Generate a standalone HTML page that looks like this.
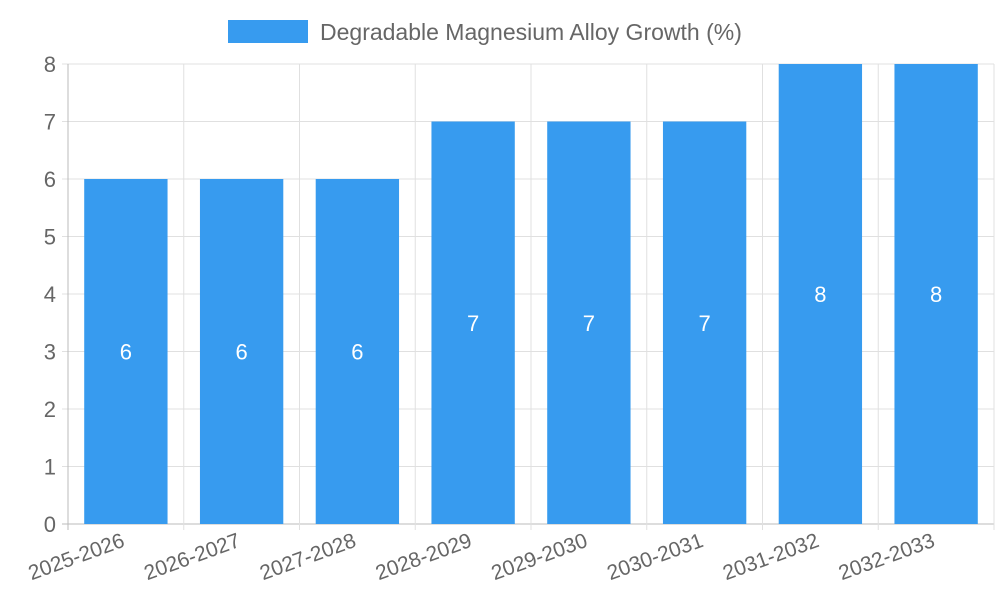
<!DOCTYPE html>
<html><head><meta charset="utf-8"><style>
body{margin:0;background:#fff;}
svg{display:block;font-family:"Liberation Sans",sans-serif;}
</style></head><body>
<svg id="chart" width="1000" height="600">
<g>
<rect x="228" y="20" width="80" height="23" fill="#379bef"></rect>
<text x="320" y="40" font-size="23" fill="#666">Degradable Magnesium Alloy Growth (%)</text>
</g>
<g id="grid"></g><g id="bars"></g><g id="labels"></g>
</svg>
<script>
const categories=["2025-2026","2026-2027","2027-2028","2028-2029","2029-2030","2030-2031","2031-2032","2032-2033"];
const values=[6,6,6,7,7,7,8,8];
const yTicks=[0,1,2,3,4,5,6,7,8];
const NS="http://www.w3.org/2000/svg";
const L=68,R=994,T=64,B=524,yMax=8;
const cw=(R-L)/categories.length;
const y=v=>B-(v/yMax)*(B-T);
const x=i=>L+i*cw;
function mk(t,a,p){const e=document.createElementNS(NS,t);for(const k in a)e.setAttribute(k,a[k]);p.appendChild(e);return e;}
const g=document.getElementById('grid'),b=document.getElementById('bars'),lb=document.getElementById('labels');
yTicks.forEach(v=>{
 const ln=mk('line',{x1:L-6,x2:R,y1:y(v),y2:y(v),stroke:v===0?'#bbb':'#e0e0e0','stroke-width':1},g);
 
 
 const t=mk('text',{x:L-12,y:y(v)+8,'text-anchor':'end','font-size':22,fill:'#666'},g);
 t.textContent=v;
 
 
});
for(let i=0;i<=categories.length;i++){
 const ln=mk('line',{x1:x(i),x2:x(i),y1:T,y2:B+6,stroke:i===0?'#bbb':'#e0e0e0','stroke-width':1},g);
 
 
}
categories.forEach((c,i)=>{
 const bw=cw*0.72,cx=x(i)+cw/2;
 const r=mk('rect',{x:cx-bw/2,y:y(values[i]),width:bw,height:B-y(values[i]),fill:'#379bef'},b);
 
 
 const vt=mk('text',{x:cx,y:(y(values[i])+B)/2+8,'text-anchor':'middle','font-size':22,fill:'#fff'},lb);
 vt.textContent=values[i];
 
 
 const xt=mk('text',{x:cx,y:B+22,'text-anchor':'end','font-size':21,fill:'#666',transform:`rotate(-20 ${cx} ${B+22})`},lb);
 xt.textContent=c;
 
 
});
</script>
</body></html>
